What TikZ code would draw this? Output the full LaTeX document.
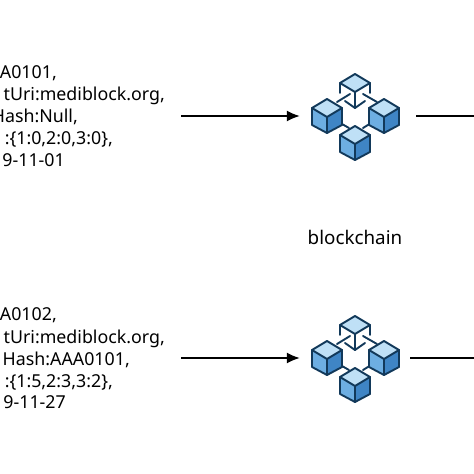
\documentclass[tikz,border=0pt]{standalone}
\usepackage{fontspec}
\setmainfont{Noto Sans}
\usetikzlibrary{arrows.meta}
\definecolor{cubeline}{HTML}{12395A}
\definecolor{cubetop}{HTML}{BFE0F6}
\definecolor{cubeleft}{HTML}{6DAEE2}
\definecolor{cuberight}{HTML}{3F85C5}
\tikzset{
  x=1pt,y=-1pt,
  txt/.style={anchor=base east,inner sep=0pt,font=\fontsize{17.8}{20}\selectfont,text=black},
  lbl/.style={inner sep=0pt,font=\fontsize{18.8}{20}\selectfont,text=black},
  link/.style={draw=black,line width=1.5pt,-{Latex[length=13pt,width=11pt]}},
  plainlink/.style={draw=black,line width=1.5pt},
  icon/.style={minimum width=110pt,minimum height=84pt,inner sep=0pt},
  cubeedge/.style={draw=cubeline,line width=1.9pt,line join=round,line cap=round},
  cube/.pic={
    \path[fill=cubetop] (0,0)--(15,9)--(0,18)--(-15,9)--cycle;
    \path[fill=cubeleft] (-15,9)--(0,18)--(0,34)--(-15,26)--cycle;
    \path[fill=cuberight] (15,9)--(0,18)--(0,34)--(15,26)--cycle;
    \draw[cubeedge] (0,0)--(15,9)--(15,26)--(0,34)--(-15,26)--(-15,9)--cycle;
    \draw[cubeedge] (-15,9)--(0,18)--(15,9) (0,18)--(0,34);
  },
  chainicon/.pic={
    % upper, open cube
    \path[fill=cubetop] (0,-42)--(15,-33)--(0,-24)--(-15,-33)--cycle;
    \draw[cubeedge] (0,-42)--(15,-33)--(0,-24)--(-15,-33)--cycle;
    \draw[cubeedge] (-15,-33)--(-15,-23) (15,-33)--(15,-23) (0,-24)--(0,-8);
    \draw[cubeedge] (-10,-15)--(0,-8)--(10,-15);
    % links
    \draw[cubeedge] (-18,-14)--(-5,-22) (8,-22)--(22,-14);
    \draw[cubeedge] (-20,4)--(-6,12) (8,12)--(21,4);
    % left, right and lower cubes
    \pic at (-28,-17) {cube};
    \pic at (29,-17) {cube};
    \pic at (0,10) {cube};
  }
}
\begin{document}
\begin{tikzpicture}
\useasboundingbox (0,0) rectangle (474,474);
\clip (0,0) rectangle (474,474);
% first block
\node[txt] (a1) at (57,78) {AA0101,};
\node[txt] (a2) at (165,100) {tUri:mediblock.org,};
\node[txt] (a3) at (78,122.5) {Hash:Null,};
\node[txt] (a4) at (113,144.5) {:\{1:0,2:0,3:0\},};
\node[txt] (a5) at (65,166.5) {9-11-01};
\coordinate (a-out) at (181,116);
\node[icon] (chain1) at (355,116) {};
\pic at (chain1.center) {chainicon};
\coordinate (a-next) at (474,116);
\coordinate (a-from) at (416,116);
\draw[link] (a-out) -- (chain1.west);
\draw[plainlink] (a-from) -- (a-next);
% label
\node[lbl] (label) at (355,237) {blockchain};
% second block
\node[txt] (b1) at (57,320) {AA0102,};
\node[txt] (b2) at (165,343) {tUri:mediblock.org,};
\node[txt] (b3) at (130,365) {Hash:AAA0101,};
\node[txt] (b4) at (113,387) {:\{1:5,2:3,3:2\},};
\node[txt] (b5) at (66,408) {9-11-27};
\coordinate (b-out) at (181,358);
\node[icon] (chain2) at (355,358) {};
\pic at (chain2.center) {chainicon};
\coordinate (b-next) at (474,358);
\coordinate (b-from) at (410,358);
\draw[link] (b-out) -- (chain2.west);
\draw[plainlink] (b-from) -- (b-next);
\end{tikzpicture}
\end{document}
